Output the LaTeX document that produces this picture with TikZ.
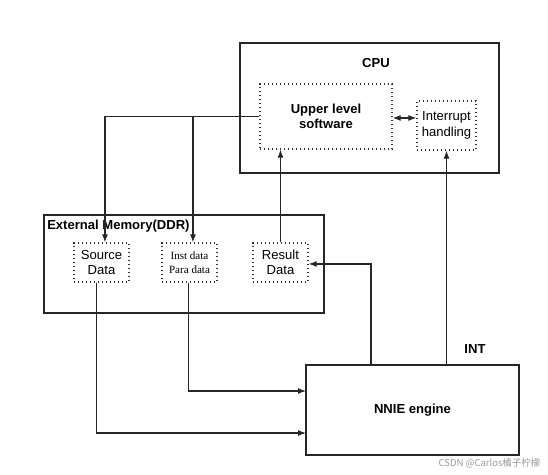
\documentclass[tikz,border=0pt]{standalone}
\usepackage{fontspec}
\setmainfont{Liberation Sans}
\newfontfamily\serifpart{Liberation Serif}
\newfontfamily\cjk{Noto Sans CJK SC}
\usetikzlibrary{arrows.meta}

\begin{document}
\begin{tikzpicture}[x=0.75pt, y=-0.75pt,
		solidbox/.style={draw=black!85, line width=0.9pt, inner sep=0pt},
		dotbox/.style={draw=black!80, dotted, line width=1pt, inner sep=0pt, align=center},
		wire/.style={draw=black!85, line width=0.8pt},
		tip/.style={-{Latex[length=6pt,width=4.5pt]}},
		bothtips/.style={{Latex[length=6pt,width=4.5pt]}-{Latex[length=6pt,width=4.5pt]}},
		lbl/.style={font=\fontsize{9.8}{11.5}\selectfont, align=center}]
			%%%%% START %%%%%
			
			\useasboundingbox (0, 0) rectangle (548, 474);
			
			% CPU side
			\node[solidbox, minimum width=194.25pt, minimum height=97.5pt] (cpu) at (369.5, 108) {};
			\node[lbl] (cputxt) at (376, 63) {\textbf{CPU}};
			\node[dotbox, lbl, minimum width=99pt, minimum height=48.75pt] (upper) at (326, 116.5) {\textbf{Upper level}\\\textbf{software}};
			\node[dotbox, lbl, minimum width=44.25pt, minimum height=36.75pt] (irq) at (446.5, 125.5) {Interrupt\\handling};
			
			% external memory
			\node[solidbox, minimum width=210pt, minimum height=73.5pt] (ddr) at (184, 264) {};
			\node[lbl, anchor=west, inner sep=0pt] (ddrtxt) at (47, 226) {\textbf{External Memory(DDR)}};
			\node[dotbox, lbl, minimum width=41.25pt, minimum height=29.25pt] (src) at (101.5, 262.5) {Source\\Data};
			\node[dotbox, font=\serifpart\fontsize{8.3}{10.5}\selectfont, minimum width=41.25pt, minimum height=29.25pt] (inst) at (189.5, 262.5) {Inst data\\Para data};
			\node[dotbox, lbl, minimum width=41.25pt, minimum height=29.25pt] (res) at (280.5, 262.5) {Result\\Data};
			
			% engine
			\node[solidbox, lbl, minimum width=159.75pt, minimum height=67.5pt] (nnie) at (412.5, 410) {\textbf{NNIE engine}};
			\node[lbl] (int) at (475, 349) {\textbf{INT}};
			
			\coordinate (rtap) at (371, 365);
			\coordinate (nhigh) at (306, 391);
			\coordinate (nlow) at (306, 433);
			\path ([xshift=2.6pt]src.north) coordinate (srcin);
			\path ([xshift=2.6pt]inst.north) coordinate (instin);
			
			% connectors
			\draw[wire, tip] (upper.west) -| (srcin);
			\draw[wire, tip] (instin |- upper.west) -- (instin);
			\draw[wire, tip] (res.north) -- (res.north |- upper.south);
			\draw[wire, bothtips] ([yshift=-1.1pt]upper.east) -- ([yshift=-1.1pt]upper.east -| irq.west);
			\draw[wire, tip] (nnie.north -| irq.south) -- (irq.south);
			\draw[wire, tip] (rtap) |- ([yshift=-1.1pt]res.east);
			\draw[wire, tip] ([xshift=-4.1pt]src.south) |- (nlow);
			\draw[wire, tip] ([xshift=-1.1pt]inst.south) |- (nhigh);
			
			\node[anchor=east, text=black!40, font=\cjk\fontsize{7.1}{8.5}\selectfont] (mark) at (545, 463) {CSDN @Carlos橘子柠檬};
			
			%%%%% END %%%%%
\end{tikzpicture}
\end{document}
